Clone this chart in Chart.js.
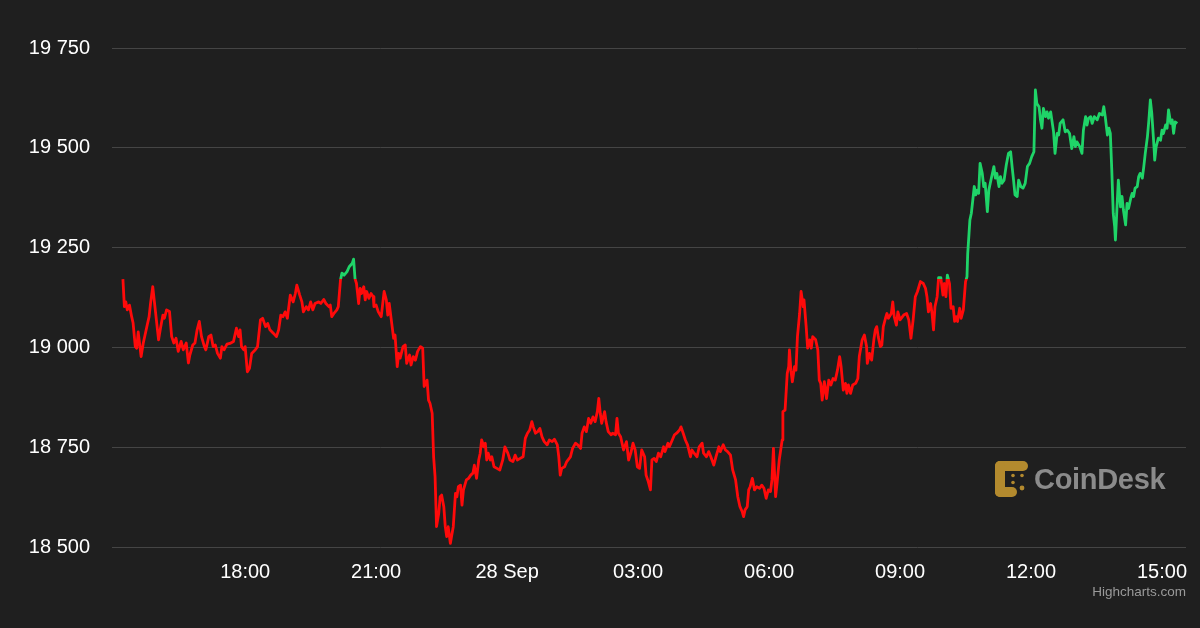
<!DOCTYPE html>
<html>
<head>
<meta charset="utf-8">
<script src="https://cdn.jsdelivr.net/npm/chart.js@4.4.1/dist/chart.umd.min.js"></script>
<style>
  html, body { margin: 0; padding: 0; background: #1f1f1f; }
  #wrap { position: relative; width: 1200px; height: 628px; background: #1f1f1f; font-family: "Liberation Sans", Arial, Helvetica, sans-serif; }
  #chart { position: absolute; left: 0; top: 0; }
  #logo { position: absolute; left: 995px; top: 461px; height: 36px; display: flex; align-items: center; }
  #logo span { color: #8b8b8b; font-weight: bold; font-size: 29px; margin-left: 6px; letter-spacing: -0.3px; }
  #credit { position: absolute; right: 14px; top: 584px; color: #9a9a9a; font-size: 13.5px; }
</style>
</head>
<body>
<div id="wrap">
  <canvas id="chart" width="1200" height="628"></canvas>
  <div id="logo">
    <svg width="33" height="36" viewBox="0 0 33 36">
      <g fill="#b38a2e">
        <rect x="0" y="0" width="33" height="10" rx="5"/>
        <rect x="0" y="0" width="10" height="36" rx="5"/>
        <rect x="0" y="26" width="22" height="10" rx="5"/>
        <circle cx="18" cy="14.5" r="1.8"/>
        <circle cx="27" cy="14.5" r="1.8"/>
        <circle cx="18" cy="21.5" r="1.8"/>
        <circle cx="27" cy="27" r="2.4"/>
      </g>
    </svg>
    <span>CoinDesk</span>
  </div>
  <div id="credit">Highcharts.com</div>
</div>
<script>
// minutes since 27 Sep 00:00
const times = [
  912, 914, 916, 918, 921, 924, 926, 929, 931, 933, 937, 940, 943, 946, 948, 950, 953, 956, 961, 964,
  967, 969, 972, 976, 979, 982, 985, 988, 992, 995, 999, 1002, 1004, 1008, 1011, 1014, 1017, 1020, 1024, 1026,
  1030, 1033, 1036, 1039, 1042, 1046, 1048, 1051, 1055, 1059, 1064, 1068, 1071, 1073, 1075, 1078, 1080, 1083, 1086, 1089,
  1094, 1097, 1101, 1104, 1108, 1111, 1114, 1119, 1123, 1126, 1129, 1132, 1135, 1138, 1142, 1146, 1149, 1151, 1155, 1158,
  1160, 1164, 1167, 1170, 1173, 1176, 1181, 1184, 1188, 1191, 1195, 1197, 1199, 1202, 1206, 1208, 1211, 1213, 1216, 1220,
  1223, 1227, 1229, 1231, 1233, 1236, 1238, 1240, 1243, 1245, 1247, 1250, 1253, 1256, 1257, 1260, 1263, 1267, 1271, 1274,
  1276, 1278, 1282, 1284, 1286, 1289, 1291, 1293, 1297, 1300, 1302, 1306, 1308, 1311, 1314, 1317, 1321, 1324, 1326, 1330,
  1332, 1334, 1337, 1339, 1341, 1343, 1346, 1348, 1350, 1353, 1355, 1357, 1359, 1362, 1364, 1366, 1369, 1371, 1373, 1376,
  1378, 1380, 1384, 1387, 1390, 1393, 1395, 1398, 1401, 1403, 1405, 1408, 1410, 1412, 1414, 1417, 1419, 1422, 1426, 1430,
  1434, 1437, 1441, 1444, 1448, 1451, 1454, 1458, 1462, 1465, 1468, 1471, 1474, 1476, 1479, 1482, 1485, 1488, 1491, 1495,
  1498, 1502, 1505, 1509, 1511, 1513, 1515, 1519, 1522, 1527, 1530, 1534, 1537, 1541, 1543, 1546, 1549, 1552, 1555, 1558,
  1561, 1564, 1566, 1568, 1570, 1574, 1576, 1579, 1583, 1585, 1589, 1591, 1593, 1596, 1600, 1604, 1607, 1610, 1613, 1616,
  1619, 1622, 1625, 1629, 1631, 1634, 1637, 1639, 1642, 1645, 1648, 1651, 1655, 1657, 1661, 1663, 1667, 1670, 1673, 1677,
  1679, 1682, 1685, 1688, 1692, 1694, 1697, 1701, 1704, 1708, 1710, 1714, 1717, 1720, 1724, 1727, 1731, 1733, 1737, 1740,
  1743, 1747, 1750, 1754, 1757, 1760, 1763, 1765, 1767, 1770, 1772, 1774, 1777, 1780, 1783, 1787, 1790, 1793, 1796, 1799,
  1802, 1804, 1806, 1809, 1811, 1814, 1818, 1819, 1822, 1825, 1827, 1828, 1830, 1832, 1835, 1837, 1839, 1842, 1844, 1847,
  1848, 1851, 1853, 1856, 1858, 1860, 1864, 1867, 1869, 1871, 1873, 1876, 1879, 1882, 1885, 1888, 1891, 1894, 1897, 1899,
  1902, 1905, 1907, 1909, 1912, 1915, 1919, 1922, 1924, 1928, 1931, 1934, 1935, 1938, 1941, 1944, 1946, 1948, 1950, 1953,
  1955, 1957, 1960, 1962, 1964, 1968, 1970, 1972, 1975, 1977, 1980, 1985, 1989, 1992, 1995, 1998, 2001, 2004, 2008, 2012,
  2015, 2017, 2019, 2022, 2024, 2026, 2028, 2031, 2033, 2036, 2039, 2041, 2043, 2045, 2048, 2050, 2053, 2055, 2057, 2059,
  2062, 2064, 2067, 2070, 2072, 2073, 2076, 2078, 2080, 2082, 2084, 2086, 2088, 2090, 2093, 2095, 2097, 2100, 2102, 2104,
  2106, 2109, 2111, 2113, 2116, 2118, 2120, 2123, 2126, 2129, 2132, 2134, 2136, 2138, 2141, 2143, 2146, 2149, 2152, 2155,
  2158, 2161, 2164, 2166, 2168, 2171, 2173, 2175, 2177, 2180, 2182, 2184, 2187, 2189, 2191, 2193, 2196, 2198, 2200, 2204,
  2207, 2210, 2213, 2216, 2219, 2221, 2223, 2227, 2230, 2232, 2235, 2237, 2239, 2242, 2244, 2247, 2251, 2254, 2258, 2260,
  2262, 2265, 2267, 2269, 2271, 2273, 2275, 2276, 2278, 2280, 2283, 2285, 2287, 2290, 2292, 2294, 2297, 2299, 2301, 2303,
  2306, 2308, 2310, 2313, 2315, 2317, 2320, 2322, 2324, 2326, 2329, 2330, 2332, 2335, 2338, 2340, 2342, 2345, 2347, 2349,
  2352, 2354, 2356, 2358, 2361
];

const prices = [
  19171, 19102, 19114, 19094, 19106, 19077, 19061, 19002, 18998, 19039, 18977, 19011, 19036, 19061, 19077, 19111, 19152, 19102, 19019, 19052,
  19081, 19073, 19094, 19090, 19027, 19011, 19023, 18990, 19015, 18994, 19011, 18961, 18981, 19006, 19011, 19044, 19065, 19027, 19002, 18994,
  19027, 19031, 19002, 19006, 18985, 18973, 19002, 18994, 19008, 19010, 19015, 19048, 19027, 19044, 19002, 18994, 19002, 18939, 18948, 18985,
  18994, 19002, 19069, 19073, 19052, 19060, 19044, 19035, 19027, 19044, 19081, 19077, 19089, 19073, 19131, 19114, 19135, 19156, 19131, 19114,
  19089, 19102, 19094, 19114, 19094, 19110, 19114, 19110, 19120, 19110, 19102, 19106, 19077, 19085, 19094, 19102, 19169, 19186, 19181, 19190,
  19202, 19210, 19221, 19172, 19160, 19110, 19148, 19135, 19152, 19119, 19140, 19123, 19135, 19127, 19102, 19106, 19089, 19077, 19140, 19119,
  19081, 19110, 19052, 19023, 19031, 18952, 18985, 18973, 19002, 19006, 18960, 18981, 18956, 18977, 18968, 18990, 19002, 18998, 18902, 18918,
  18868, 18860, 18835, 18726, 18676, 18551, 18584, 18626, 18630, 18601, 18551, 18526, 18551, 18509, 18530, 18551, 18634, 18626, 18651, 18655,
  18605, 18643, 18668, 18672, 18680, 18685, 18705, 18672, 18718, 18735, 18768, 18751, 18760, 18718, 18735, 18718, 18726, 18701, 18697, 18693,
  18718, 18751, 18735, 18718, 18714, 18730, 18718, 18722, 18726, 18772, 18785, 18793, 18814, 18801, 18785, 18789, 18797, 18776, 18764, 18756,
  18768, 18764, 18770, 18756, 18726, 18680, 18697, 18701, 18714, 18726, 18747, 18760, 18756, 18747, 18785, 18801, 18789, 18822, 18810, 18826,
  18814, 18839, 18872, 18835, 18810, 18839, 18814, 18789, 18781, 18785, 18781, 18822, 18785, 18776, 18743, 18764, 18718, 18735, 18760, 18743,
  18701, 18697, 18743, 18726, 18680, 18664, 18643, 18718, 18722, 18714, 18735, 18726, 18751, 18739, 18760, 18751, 18768, 18781, 18785, 18793,
  18801, 18785, 18768, 18756, 18726, 18743, 18735, 18726, 18751, 18760, 18735, 18726, 18739, 18726, 18705, 18726, 18751, 18739, 18756, 18743,
  18739, 18730, 18693, 18668, 18626, 18601, 18589, 18576, 18593, 18601, 18643, 18651, 18672, 18643, 18651, 18647, 18655, 18647, 18622, 18643,
  18639, 18668, 18747, 18626, 18660, 18718, 18768, 18839, 18843, 18935, 18952, 18994, 18943, 18914, 18952, 18943, 19027, 19085, 19140, 19102,
  19119, 19052, 18998, 19019, 18998, 19027, 19019, 18994, 18918, 18910, 18868, 18914, 18872, 18918, 18906, 18922, 18918, 18943, 18977, 18952,
  18893, 18910, 18885, 18906, 18885, 18906, 18910, 18922, 18977, 19019, 19031, 19002, 18960, 18985, 18968, 19019, 19044, 19052, 19027, 19002,
  19006, 19052, 19073, 19085, 19073, 19085, 19114, 19077, 19056, 19089, 19069, 19081, 19085, 19069, 19023, 19069, 19127, 19140, 19165, 19160,
  19148, 19127, 19089, 19110, 19085, 19044, 19102, 19127, 19175, 19175, 19131, 19160, 19127, 19181, 19160, 19098, 19102, 19065, 19077, 19065,
  19098, 19073, 19094, 19165, 19177, 19235, 19319, 19336, 19369, 19403, 19382, 19394, 19386, 19461, 19436, 19403, 19411, 19340, 19394, 19411,
  19428, 19453, 19424, 19436, 19403, 19428, 19411, 19419, 19457, 19486, 19490, 19453, 19419, 19382, 19378, 19419, 19403, 19399, 19411, 19453,
  19461, 19478, 19490, 19645, 19611, 19603, 19570, 19549, 19599, 19578, 19590, 19574, 19590, 19565, 19540, 19486, 19536, 19532, 19561, 19570,
  19540, 19544, 19536, 19498, 19528, 19503, 19515, 19503, 19486, 19544, 19578, 19557, 19574, 19578, 19561, 19578, 19570, 19586, 19582, 19603,
  19578, 19532, 19549, 19536, 19444, 19336, 19302, 19269, 19344, 19419, 19352, 19378, 19344, 19307, 19361, 19348, 19373, 19386, 19378, 19399,
  19403, 19428, 19436, 19424, 19453, 19486, 19528, 19570, 19620, 19586, 19503, 19469, 19503, 19524, 19519, 19544, 19536, 19557, 19549, 19595,
  19561, 19570, 19536, 19565, 19561
];

const xTicks = [1080, 1260, 1440, 1620, 1800, 1980, 2160, 2340];
const xTickLabels = ["18:00", "21:00", "28 Sep", "03:00", "06:00", "09:00", "12:00", "15:00"];
const yMin = 18500;
const yMax = 19750;
const yStep = 250;
const openPrice = prices[0];

const upColor = "#1fd468";
const downColor = "#ff0a0a";
const fontFamily = '"Liberation Sans", Arial, Helvetica, sans-serif';

const points = times.map((t, i) => ({ x: t, y: prices[i] }));

function zoneColor(context) {
  const chart = context.chart;
  const area = chart.chartArea;
  if (!area) return downColor;
  const yPix = chart.scales.y.getPixelForValue(openPrice);
  let stop = (yPix - area.top) / (area.bottom - area.top);
  stop = Math.min(1, Math.max(0, stop));
  const g = chart.ctx.createLinearGradient(0, area.top, 0, area.bottom);
  g.addColorStop(0, upColor);
  g.addColorStop(stop, upColor);
  g.addColorStop(stop, downColor);
  g.addColorStop(1, downColor);
  return g;
}

new Chart(document.getElementById("chart"), {
  type: "line",
  data: {
    datasets: [
      {
        label: "BTC",
        data: points,
        borderColor: zoneColor,
        borderWidth: 2.8,
        borderJoinStyle: "round",
        pointRadius: 0,
        tension: 0,
        fill: false,
      },
    ],
  },
  options: {
    responsive: false,
    animation: false,
    layout: { padding: { top: 48, right: 14, bottom: 0, left: 0 } },
    plugins: {
      legend: { display: false },
      tooltip: { enabled: false },
    },
    scales: {
      x: {
        type: "linear",
        min: 897,
        max: 2373,
        afterFit: (scale) => { scale.height = 81; },
        afterBuildTicks: (scale) => { scale.ticks = xTicks.map((v) => ({ value: v })); },
        grid: { display: false },
        border: { display: false },
        ticks: {
          color: "#ffffff",
          font: { family: fontFamily, size: 20 },
          padding: 5,
          maxRotation: 0,
          autoSkip: false,
          callback: (v) => xTickLabels[xTicks.indexOf(v)],
        },
      },
      y: {
        min: yMin,
        max: yMax,
        afterFit: (scale) => { scale.width = 112; },
        grid: { color: "#454545", lineWidth: 1, drawTicks: false },
        border: { display: false },
        ticks: {
          stepSize: yStep,
          color: "#ffffff",
          font: { family: fontFamily, size: 20 },
          padding: 22,
          callback: (v) => String(v).replace(/\B(?=(\d{3})+(?!\d))/g, " "),
        },
      },
    },
  },
});
</script>
</body>
</html>
